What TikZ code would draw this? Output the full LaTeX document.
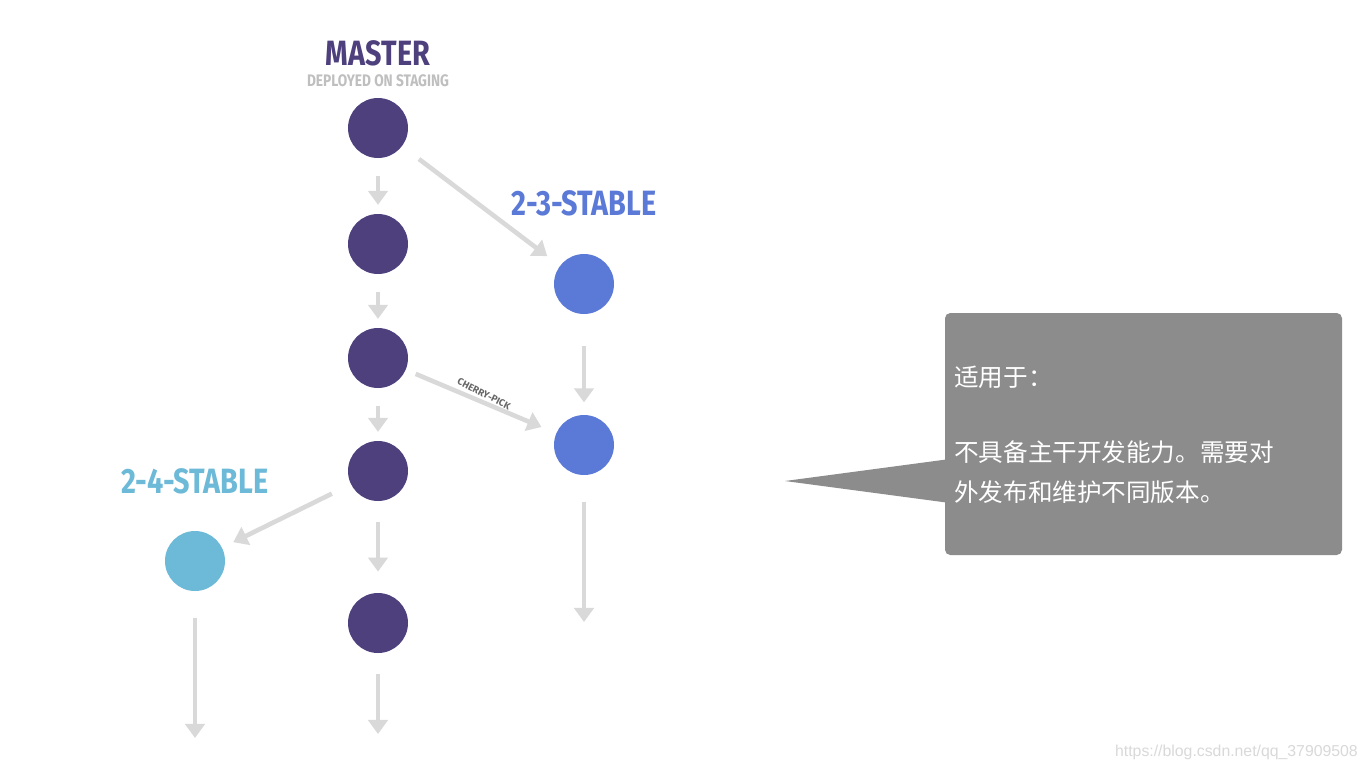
\documentclass[tikz,border=0pt]{standalone}
\usepackage{fontspec}
\setsansfont{Fira Sans}
\newfontfamily\cjk{Noto Sans CJK SC}
\newfontfamily\urlfont{Liberation Sans}
\usetikzlibrary{arrows.meta}
\definecolor{mastercol}{HTML}{4E3F7D}
\definecolor{stabthree}{HTML}{5B79D6}
\definecolor{stabfour}{HTML}{6CB9D8}
\definecolor{flowgray}{HTML}{D9D9D9}
\definecolor{boxgray}{HTML}{8C8C8C}
\begin{document}
\begin{tikzpicture}[x=0.02cm, y=-0.02cm]
\tikzset{ commit/.style={circle, minimum size=1.2cm, inner sep=0pt},
  flow/.style={draw=flowgray, line width=2.6pt, -{Triangle[length=8pt,width=11pt]}},
  tag/.style={font=\sffamily\bfseries\fontsize{20}{20}\selectfont, xscale=0.82},
}
\useasboundingbox[fill=white] (0,0) rectangle (1372,772);

\node [commit, fill=mastercol] (M1) at (378,128) {};
\node [commit, fill=mastercol] (M2) at (378,244) {};
\node [commit, fill=mastercol] (M3) at (378,358) {};
\node [commit, fill=mastercol] (M4) at (378,471) {};
\node [commit, fill=mastercol] (M5) at (378,623) {};
\node [commit, fill=stabthree] (S1) at (584,284) {};
\node [commit, fill=stabthree] (S2) at (584,445) {};
\node [commit, fill=stabfour]  (F1) at (195,561) {};

\coordinate (ME) at (378,734);
\coordinate (SE) at (584,622);
\coordinate (FE) at (195,738);

\draw [flow, shorten <=10pt, shorten >=5pt] (M1) -- (M2);
\draw [flow, shorten <=10pt, shorten >=5pt] (M2) -- (M3);
\draw [flow, shorten <=10pt, shorten >=5pt] (M3) -- (M4);
\draw [flow, shorten <=12pt, shorten >=12pt] (M4) -- (M5);
\draw [flow, shorten <=12pt] (M5) -- (ME);
\draw [flow, shorten <=18pt, shorten >=7pt] (S1) -- (S2);
\draw [flow, shorten <=15pt] (S2) -- (SE);
\draw [flow, shorten <=15pt] (F1) -- (FE);
\draw [flow, shorten <=12pt, shorten >=9pt] (M1) -- (S1);
\draw [flow, shorten <=6pt, shorten >=9pt] (M3) -- (S2);
\draw [flow, shorten <=12pt, shorten >=7pt] (M4) -- (F1);

\node [tag, text=mastercol] (LM) at (378,53) {MASTER};
\node [font=\sffamily\bfseries\fontsize{9.5}{10}\selectfont, xscale=0.82, text=black!25] (LD) at (378,81) {DEPLOYED ON STAGING};
\node [tag, text=stabthree] (LS) at (584,203) {2-3-STABLE};
\node [tag, text=stabfour] (LF) at (195,481) {2-4-STABLE};
\node [font=\sffamily\bfseries\fontsize{5.5}{6}\selectfont, text=black!60, rotate=-27] (LC) at (484,394) {CHERRY-PICK};

% callout
\fill [boxgray] (785,481) -- (950,459) -- (950,503) -- cycle;
\fill [boxgray, rounded corners=3pt] (945,313) rectangle (1342,555);
\node [anchor=west, text=white, font=\cjk\fontsize{14}{14}\selectfont] (T1) at (948,377) {适用于：};
\node [anchor=west, text=white, font=\cjk\fontsize{14}{14}\selectfont] (T2) at (948,452) {不具备主干开发能力。需要对};
\node [anchor=west, text=white, font=\cjk\fontsize{14}{14}\selectfont] (T3) at (948,492) {外发布和维护不同版本。};

\node [anchor=east, text=black!15, font=\urlfont\fontsize{9}{9}\selectfont] (W) at (1364,752) {https://blog.csdn.net/qq\_37909508};
\end{tikzpicture}
\end{document}
